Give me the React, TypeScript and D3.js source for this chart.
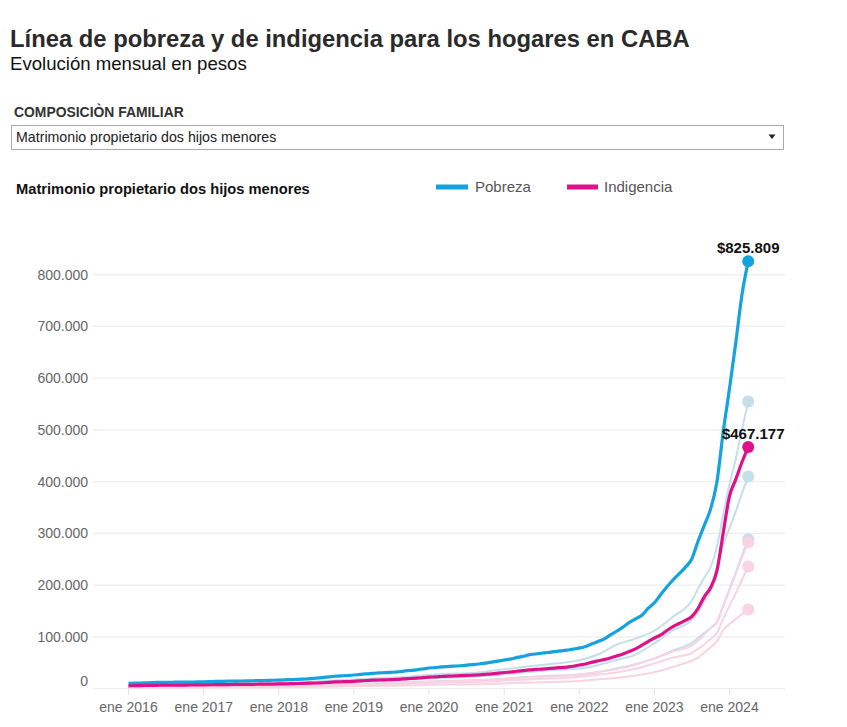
import React from "react";
import * as d3 from "d3";

// Monthly series, Jan 2016 .. Apr 2024 (pesos)
const POBREZA = [
  10400, 10700, 11000, 11500, 11900, 12200, 12400, 12500, 12600, 12800, 12900, 13100,
  13400, 13700, 14000, 14300, 14500, 14700, 14900, 15200, 15400, 15700, 15900, 16300,
  16700, 17100, 17600, 18000, 18600, 19300, 20600, 21400, 22800, 24000, 24800, 25300,
  26500, 27500, 28600, 29500, 30400, 31000, 31600, 32400, 34000, 35200, 36500, 38000,
  40000, 40800, 42000, 42800, 43600, 44400, 45400, 46500, 47800, 49500, 51300, 53300,
  55500, 57500, 60000, 62500, 65500, 67000, 68500, 70000, 71500, 73000, 74500, 76500,
  78500, 81500, 86500, 91000, 96000, 104000, 111000, 119000, 128000, 135000, 142000, 155000,
  166000, 182000, 196000, 210000, 222000, 235000, 250000, 285000, 316000, 347000, 400000, 495000,
  580000, 670000, 760000, 825809,
];

const INDIGENCIA = [
  5600, 5800, 6000, 6300, 6500, 6700, 6800, 6900, 7000, 7100, 7200, 7300,
  7400, 7600, 7800, 7900, 8000, 8200, 8300, 8400, 8500, 8700, 8800, 9000,
  9200, 9400, 9700, 10000, 10300, 10700, 11000, 11500, 12400, 13000, 13400, 13700,
  14300, 15000, 15800, 16400, 16800, 17200, 17500, 18000, 19000, 19700, 20400, 21300,
  22300, 22800, 23600, 24200, 24600, 25100, 25600, 26200, 26900, 27800, 28800, 30000,
  31300, 32300, 33700, 35000, 36300, 37200, 38000, 38900, 39800, 40800, 41800, 43300,
  45800, 47800, 50800, 53800, 56300, 59300, 63000, 67000, 72000, 77000, 84000, 91000,
  98000, 104000, 112000, 120000, 126000, 132000, 139000, 155000, 178000, 195000, 228000, 300000,
  372000, 405000, 437000, 467177,
];

// Other household types, sampled quarterly and then monthly from Jul 2023
const OTRAS_MESES = [
  0, 3, 6, 9, 12, 15, 18, 21, 24, 27, 30, 33, 36, 39, 42, 45, 48, 51, 54, 57,
  60, 63, 66, 69, 72, 75, 78, 81, 84, 87, 90, 91, 92, 93, 94, 95, 96, 97, 98, 99,
];

const OTRA_POBREZA_1 = [
  7000, 7700, 8300, 8600, 9000, 9600, 10000, 10500, 11200, 12100, 13800, 16100, 17800, 19800, 21200, 23600,
  26600, 28700, 30000, 33000, 37500, 42000, 46000, 49500, 55000, 66000, 85000, 97000, 112000, 139000,
  170000, 193000, 215000, 235000, 275000, 335000, 395000, 445000, 500000, 555000,
];
const OTRA_POBREZA_2 = [
  5200, 5700, 6200, 6400, 6700, 7100, 7400, 7800, 8300, 9000, 10300, 12000, 13200, 14700, 15800, 17600,
  20000, 21400, 22700, 24700, 27700, 31200, 34200, 36500, 39200, 45500, 55500, 66000, 88000, 113000,
  133000, 148000, 170000, 188000, 235000, 276000, 310000, 343000, 377000, 410000,
];
const OTRA_POBREZA_3 = [
  3600, 4000, 4300, 4500, 4700, 5000, 5200, 5500, 5800, 6300, 7200, 8400, 9300, 10300, 11100, 12300,
  14000, 15000, 15900, 17300, 19400, 21900, 24000, 25600, 27500, 31900, 38900, 47300, 58000, 74000,
  88000, 98000, 108000, 117000, 128000, 160000, 193000, 225000, 257000, 289000,
];
const OTRA_INDIGENCIA_1 = [
  3400, 3800, 4100, 4300, 4400, 4700, 5000, 5200, 5500, 6000, 6600, 7800, 8600, 9800, 10500, 11800,
  13400, 14500, 15100, 16700, 18800, 21000, 22800, 24500, 27500, 32300, 37800, 46200, 58800, 72000,
  83000, 93000, 105000, 117000, 130000, 160000, 190000, 222000, 253000, 283000,
];
const OTRA_INDIGENCIA_2 = [
  2800, 3200, 3400, 3600, 3700, 4000, 4200, 4400, 4600, 5000, 5500, 6500, 7200, 8200, 8800, 9800,
  11200, 12100, 12600, 13900, 15700, 17500, 19000, 20400, 22900, 26900, 31500, 38500, 49000, 60000,
  69000, 77000, 86000, 96000, 108000, 135000, 160000, 185000, 210000, 236000,
];
const OTRA_INDIGENCIA_3 = [
  1900, 2100, 2200, 2300, 2400, 2600, 2700, 2800, 3000, 3300, 3600, 4300, 4700, 5400, 5800, 6500,
  7400, 8000, 8300, 9200, 10300, 11600, 12500, 13500, 15100, 17800, 20800, 25400, 32000, 42000,
  54000, 60000, 70000, 80000, 92000, 113000, 125000, 135000, 144000, 153000,
];

const Y_TICKS = [0, 100000, 200000, 300000, 400000, 500000, 600000, 700000, 800000];
const X_TICK_YEARS = [2016, 2017, 2018, 2019, 2020, 2021, 2022, 2023, 2024];
const X_TICK_LABELS = X_TICK_YEARS.map((y) => `ene ${y}`);

const FONT = "'Liberation Sans', Arial, Helvetica, sans-serif";
const AZUL = "#14a3de";
const ROSA = "#dd1189";
const AZUL_CLARO = "#c4dfea";
const ROSA_CLARO = "#f9d3e2";

const W = 847;
const H = 727;

const locale = d3.formatLocale({
  decimal: ",",
  thousands: ".",
  grouping: [3],
  currency: ["$", ""],
});
const fmtEje = locale.format(",");
const fmtValor = locale.format("$,");

const mes = (i: number) => d3.timeMonth.offset(new Date(2016, 0, 1), i);

export default function App() {
  const x = d3
    .scaleTime()
    .domain([new Date(2016, 0, 1), new Date(2024, 0, 1)])
    .range([128.5, 729.5]);
  const y = d3.scaleLinear().domain([0, 800000]).range([688.7, 274.7]);
  const gridX0 = 93;
  const gridX1 = 785;

  const line = d3
    .line<[Date, number]>()
    .x((d) => x(d[0]))
    .y((d) => y(d[1]))
    .curve(d3.curveMonotoneX);

  const mensual = (vals: number[]) => vals.map((v, i) => [mes(i), v] as [Date, number]);
  const trimestral = (vals: number[]) =>
    vals.map((v, i) => [mes(OTRAS_MESES[i]), v] as [Date, number]);

  const otras = [
    { data: trimestral(OTRA_POBREZA_1), color: AZUL_CLARO },
    { data: trimestral(OTRA_POBREZA_2), color: AZUL_CLARO },
    { data: trimestral(OTRA_POBREZA_3), color: AZUL_CLARO },
    { data: trimestral(OTRA_INDIGENCIA_1), color: ROSA_CLARO },
    { data: trimestral(OTRA_INDIGENCIA_2), color: ROSA_CLARO },
    { data: trimestral(OTRA_INDIGENCIA_3), color: ROSA_CLARO },
  ];
  const principales = [
    { data: mensual(POBREZA), color: AZUL, dx: 0 },
    { data: mensual(INDIGENCIA), color: ROSA, dx: 5 },
  ];

  return (
    <svg
      width={W}
      height={H}
      style={{ position: "absolute", left: 0, top: 0, background: "#fff" }}
      fontFamily={FONT}
    >
      <text x={10} y={47} fontSize={23.8} fontWeight="bold" fill="#2a2a2a">
        Línea de pobreza y de indigencia para los hogares en CABA
      </text>
      <text x={10} y={70} fontSize={18.6} fill="#111">
        Evolución mensual en pesos
      </text>

      <text x={14} y={116.5} fontSize={13.9} fontWeight="bold" fill="#333">
        COMPOSICIÒN FAMILIAR
      </text>
      <rect x={11.5} y={125.5} width={772} height={24} fill="#fff" stroke="#a9a9a9" />
      <text x={16} y={142} fontSize={14.2} fill="#222">
        Matrimonio propietario dos hijos menores
      </text>
      <path d="M768.5,134.5 L775.5,134.5 L772,139 Z" fill="#222" />

      <text x={16} y={194} fontSize={14.7} fontWeight="bold" fill="#111">
        Matrimonio propietario dos hijos menores
      </text>

      <g>
        <line x1={436} x2={468} y1={187} y2={187} stroke={AZUL} strokeWidth={5} />
        <text x={475} y={192} fontSize={15} fill="#555">
          Pobreza
        </text>
        <line x1={567} x2={598} y1={187} y2={187} stroke={ROSA} strokeWidth={5} />
        <text x={604} y={192} fontSize={15} fill="#555">
          Indigencia
        </text>
      </g>

      <g>
        {Y_TICKS.map((t) => (
          <g key={t}>
            <line x1={gridX0} x2={gridX1} y1={y(t)} y2={y(t)} stroke="#eeeeee" strokeWidth={1.3} />
            <text
              x={88}
              y={y(t) + (t === 0 ? -3 : 5)}
              textAnchor="end"
              fontSize={14}
              fill="#666"
            >
              {fmtEje(t)}
            </text>
          </g>
        ))}
        {X_TICK_YEARS.map((yr, i) => {
          const px = x(new Date(yr, 0, 1));
          return (
            <g key={yr}>
              <line x1={px} x2={px} y1={689} y2={695} stroke="#e2e2e2" />
              <text x={px} y={712} textAnchor="middle" fontSize={14} fill="#666">
                {X_TICK_LABELS[i]}
              </text>
            </g>
          );
        })}
      </g>

      <g>
        {otras.map((s, i) => {
          const last = s.data[s.data.length - 1];
          return (
            <g key={i}>
              <path d={line(s.data) || ""} fill="none" stroke={s.color} strokeWidth={2} />
              <circle cx={x(last[0])} cy={y(last[1])} r={6} fill={s.color} />
            </g>
          );
        })}
      </g>

      <g>
        {principales.map((s, i) => {
          const last = s.data[s.data.length - 1];
          return (
            <g key={i}>
              <path d={line(s.data) || ""} fill="none" stroke={s.color} strokeWidth={3.2} />
              <circle cx={x(last[0])} cy={y(last[1])} r={6} fill={s.color} />
              <text
                x={x(last[0]) + s.dx}
                y={y(last[1]) - 8}
                textAnchor="middle"
                fontSize={15}
                fontWeight="bold"
                fill="#111"
              >
                {fmtValor(last[1])}
              </text>
            </g>
          );
        })}
      </g>
    </svg>
  );
}
